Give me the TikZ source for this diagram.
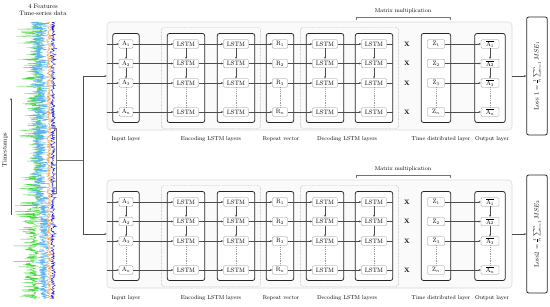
\documentclass[tikz,border=0pt]{standalone}
\usepackage[dvipsnames,svgnames,x11names]{xcolor}
\usepackage{tikz}
\usetikzlibrary{arrows.meta,backgrounds,fit}

\definecolor{tsgreen}{RGB}{70,215,60}
\definecolor{tssky}{RGB}{95,180,240}
\definecolor{tsorange}{RGB}{250,160,75}
\definecolor{tsblue}{RGB}{25,25,225}

\begin{document}
\begin{tikzpicture}[font=\footnotesize,>={Stealth[length=1.1mm,width=0.9mm]},x=0.5mm,y=-0.5mm,
  cellbox/.style={rectangle,rounded corners=1.5pt,fill=white,draw=black!45,line width=0.5pt,minimum height=4.3mm,inner sep=1pt,font=\small},
  colbox/.style={rectangle,rounded corners=3pt,fill=white,draw=black!85,line width=1.1pt,inner sep=3mm},
  groupbox/.style={rectangle,rounded corners=4pt,draw=black!30,line width=0.6pt,dash pattern=on 1pt off 1pt,inner sep=6mm},
  panelbox/.style={rectangle,rounded corners=5pt,fill=black!2,draw=black!15,line width=0.8pt,inner sep=0pt},
  lossbox/.style={rectangle,rounded corners=3pt,fill=white,draw=black!85,line width=1.1pt,minimum width=59mm,minimum height=10.3mm,rotate=90,font=\small},
  linkarrow/.style={->,draw=black!70,line width=0.45pt},
  linkline/.style={draw=black!70,line width=0.45pt},
  dotline/.style={draw=black!40,line width=0.5pt,dotted},
  bracketline/.style={draw=black!55,line width=0.5pt},
  layername/.style={font=\footnotesize,anchor=base},
  tsline/.style={line width=0.4pt,line join=round}]
\useasboundingbox (0,0) rectangle (550,307);

% time-series data
\pgfmathsetseed{4242}
\draw[tsline,tsgreen] plot[variable=\t,domain=22:299,samples=700] ({43-8*rnd-20*rnd^6-7*(\t>205)*rnd},\t);
\draw[tsline,tssky] plot[variable=\t,domain=22:299,samples=1000] ({49-(17-7*(\t>205))*rnd-5*rnd^6},\t);
\draw[tsline,tsblue] plot[variable=\t,domain=22:299,samples=600] ({52.5+2.3*rand+2.5*rnd^6},\t);
\draw[tsline,tsorange] plot[variable=\t,domain=22:299,samples=600] ({49+2.6*rand},\t);
\node[font=\small,align=center] (tshdr) at (43,10) {4 Features\\Time-series data};

\coordinate (tsfoot) at (11,215);
\coordinate (tshead) at (11,98);
\draw[linkarrow] (tsfoot) -- (tshead);
\node[rotate=90,font=\small] (tslabel) at (5,150) {Timestamps};

% two autoencoder panels
\foreach \p/\dy/\lname/\k in {t/0/Loss 1/1,b/158/Loss2/2}{
  \foreach \r/\ry in {1/44,2/63.5,3/83,n/112}{
    \node[cellbox,minimum width=7mm] (\p in\r) at (126,{\ry+\dy}) {A$_{\r}$};
    \node[cellbox,minimum width=12.5mm] (\p ea\r) at (186,{\ry+\dy}) {LSTM};
    \node[cellbox,minimum width=12.5mm] (\p eb\r) at (236,{\ry+\dy}) {LSTM};
    \node[cellbox,minimum width=7.5mm] (\p rv\r) at (280,{\ry+\dy}) {R$_{\r}$};
    \node[cellbox,minimum width=12.5mm] (\p da\r) at (325,{\ry+\dy}) {LSTM};
    \node[cellbox,minimum width=12.5mm] (\p db\r) at (374,{\ry+\dy}) {LSTM};
    \node[font=\small\bfseries] (\p x\r) at (407,{\ry+\dy}) {X};
    \node[cellbox,minimum width=8.5mm] (\p td\r) at (436,{\ry+\dy}) {Z$_{\r}$};
    \node[cellbox,minimum width=9mm] (\p out\r) at (490,{\ry+\dy}) {$\overline{\mathrm{A}_{\r}}$};
  }
  \coordinate (\p nw) at (107,{22+\dy});
  \coordinate (\p se) at (512,{130+\dy});
  \begin{scope}[on background layer]
    \node[panelbox,fit=(\p nw)(\p se)] (\p panel) {};
    \node[groupbox,fit=(\p ea1)(\p ebn)] (\p enc) {};
    \node[groupbox,fit=(\p da1)(\p dbn)] (\p dec) {};
    \foreach \c in {in,ea,eb,rv,da,db,td,out}
      \node[colbox,fit=(\p\c1)(\p\c n)] (\p\c col) {};
  \end{scope}
  \foreach \c in {in,ea,eb,da,db,out}{
    \draw[linkarrow] (\p\c1) -- (\p\c2);
    \draw[linkarrow] (\p\c2) -- (\p\c3);
  }
  \foreach \c in {in,ea,eb,rv,da,db,td,out}
    \draw[dotline] (\p\c3) -- (\p\c n);
  \foreach \r in {1,2,3,n}{
    \draw[linkarrow] (\p in\r.west -| \p panel.west) -- (\p in\r.west);
    \draw[linkarrow] (\p in\r) -- (\p ea\r);
    \draw[linkarrow] (\p ea\r) -- (\p eb\r);
    \draw[linkarrow] (\p eb\r) -- (\p rv\r);
    \draw[linkarrow] (\p rv\r) -- (\p da\r);
    \draw[linkarrow] (\p da\r) -- (\p db\r);
    \draw[linkline] (\p db\r) -- (\p db\r -| \p dbcol.east);
    \draw[linkarrow] (\p td\r) -- (\p out\r);
  }
  \node[layername] (\p lin) at (126,{141+\dy}) {Input layer};
  \node[layername] (\p lenc) at (211,{141+\dy}) {Encoding LSTM layers};
  \node[layername] (\p lrv) at (281,{141+\dy}) {Repeat vector};
  \node[layername] (\p ldec) at (347,{141+\dy}) {Decoding LSTM layers};
  \node[layername] (\p ltd) at (441,{141+\dy}) {Time distributed layer};
  \node[layername] (\p lout) at (492,{141+\dy}) {Output layer};
  % matrix multiplication bracket
  \coordinate (\p mmL) at (356,{20+\dy});
  \coordinate (\p mmR) at (450,{20+\dy});
  \draw[bracketline] (\p mmL) -- ++(0,-3) -| node[pos=0.25,above=1pt,text=black] (\p mm) {Matrix multiplication} (\p mmR);
  % loss
  \node[lossbox] (\p loss) at (537,{76+\dy}) {\lname{} $= \frac{1}{n}\sum_{i=1}^{n} MSE_{\k}$};
  \draw[linkarrow] (\p panel) -- (\p loss);
}

% selection feeding both panels
\coordinate (selT) at (56,128);
\coordinate (selB) at (56,193);
\draw[bracketline] ([xshift=-1.5mm]selT) -- (selT) -- (selB) -- ([xshift=-1.5mm]selB);
\coordinate (selM) at (56,160);
\coordinate (split) at (83,160);
\draw[bracketline] (selM) -- (split);
\draw[linkarrow] (split) |- (tpanel.west);
\draw[linkarrow] (split) |- (bpanel.west);
\end{tikzpicture}
\end{document}
